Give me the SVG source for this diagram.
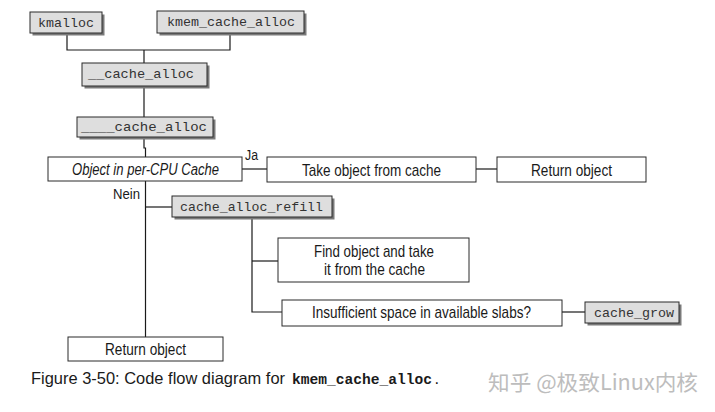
<svg xmlns="http://www.w3.org/2000/svg" width="715" height="412" viewBox="0 0 715 412">
<defs>
<style>
.bg{fill:#ffffff}
.gbox{fill:#dedede;stroke:#2a2a2a;stroke-width:1}
.shadow{fill:#7a7a7a}
.wbox{fill:#ffffff;stroke:#2a2a2a;stroke-width:1}
.conn{fill:none;stroke:#1a1a1a;stroke-width:1.2}
.mono{font-family:"Liberation Mono","DejaVu Sans Mono",monospace;font-size:13.5px;fill:#333333}
.sans{font-family:"Liberation Sans Narrow","Liberation Sans",Arial,sans-serif;font-size:17px;fill:#1a1a1a}
.it{font-style:italic}
.small{font-size:14px}
.cap{font-family:"Liberation Sans",Arial,sans-serif;font-size:16.5px;fill:#1a1a1a}
.capmono{font-family:"Liberation Mono","DejaVu Sans Mono",monospace;font-size:15px;font-weight:bold;fill:#1a1a1a}
.wm{font-family:"Noto Sans CJK SC","Noto Sans",sans-serif;font-size:21px;fill:#bdbdbd}
</style>
</defs>
<rect class="bg" x="0" y="0" width="715" height="412"/>

<g id="connectors">
<path class="conn" d="M67,33 V50 H230 V33"/>
<path class="conn" d="M144,50 V63"/>
<path class="conn" d="M144,86 V117"/>
<path class="conn" d="M144,137 V148 H145.5 V157"/>
<path class="conn" d="M242,169 H267"/>
<path class="conn" d="M476,169 H497"/>
<path class="conn" d="M145.5,181 V337"/>
<path class="conn" d="M145.5,207 H172"/>
<path class="conn" d="M252,217 V312 H282"/>
<path class="conn" d="M252,261 H278"/>
<path class="conn" d="M562,312 H585"/>
</g>

<g id="kmalloc">
<rect class="shadow" x="32.5" y="14.5" width="72" height="21"/>
<rect class="gbox" x="30" y="12" width="72" height="21"/>
<text class="mono" x="38" y="27" textLength="56" lengthAdjust="spacingAndGlyphs">kmalloc</text>
</g>

<g id="kmem_cache_alloc">
<rect class="shadow" x="159.5" y="13.5" width="147" height="22"/>
<rect class="gbox" x="157" y="11" width="147" height="22"/>
<text class="mono" x="167" y="26" textLength="128" lengthAdjust="spacingAndGlyphs">kmem_cache_alloc</text>
</g>

<g id="__cache_alloc">
<rect class="shadow" x="84.5" y="65.5" width="125" height="23"/>
<rect class="gbox" x="82" y="63" width="125" height="23"/>
<text class="mono" x="88" y="78" textLength="106" lengthAdjust="spacingAndGlyphs">__cache_alloc</text>
</g>

<g id="____cache_alloc">
<rect class="shadow" x="79.5" y="119.5" width="136" height="20"/>
<rect class="gbox" x="77" y="117" width="136" height="20"/>
<text class="mono" x="81" y="131" textLength="126" lengthAdjust="spacingAndGlyphs">____cache_alloc</text>
</g>

<g id="object_in_cache">
<rect class="wbox" x="48" y="157" width="194" height="24"/>
<text class="sans it" transform="translate(72,175) scale(0.8,1)" x="0" y="0" textLength="183.75" lengthAdjust="spacingAndGlyphs">Object in per-CPU Cache</text>
</g>

<g id="label_ja">
<text class="sans small" x="245" y="159.5" textLength="13" lengthAdjust="spacingAndGlyphs">Ja</text>
</g>

<g id="label_nein">
<text class="sans small" x="113" y="199" textLength="27" lengthAdjust="spacingAndGlyphs">Nein</text>
</g>

<g id="take_object">
<rect class="wbox" x="267" y="157" width="209" height="25"/>
<text class="sans" x="302" y="175.5" textLength="139" lengthAdjust="spacingAndGlyphs">Take object from cache</text>
</g>

<g id="return_object_top">
<rect class="wbox" x="497" y="157" width="149" height="25"/>
<text class="sans" x="531" y="175.5" textLength="81" lengthAdjust="spacingAndGlyphs">Return object</text>
</g>

<g id="cache_alloc_refill">
<rect class="shadow" x="174.5" y="198.5" width="160" height="21"/>
<rect class="gbox" x="172" y="196" width="160" height="21"/>
<text class="mono" x="180" y="211" textLength="143" lengthAdjust="spacingAndGlyphs">cache_alloc_refill</text>
</g>

<g id="find_object">
<rect class="wbox" x="278" y="238" width="191" height="44"/>
<text class="sans" x="314" y="257" textLength="120" lengthAdjust="spacingAndGlyphs">Find object and take</text>
<text class="sans" x="324" y="274.5" textLength="101" lengthAdjust="spacingAndGlyphs">it from the cache</text>
</g>

<g id="insufficient_space">
<rect class="wbox" x="282" y="300" width="280" height="26"/>
<text class="sans" x="312" y="318" textLength="219" lengthAdjust="spacingAndGlyphs">Insufficient space in available slabs?</text>
</g>

<g id="cache_grow">
<rect class="shadow" x="587.5" y="304.5" width="94" height="21"/>
<rect class="gbox" x="585" y="302" width="94" height="21"/>
<text class="mono" x="594" y="317" textLength="80" lengthAdjust="spacingAndGlyphs">cache_grow</text>
</g>

<g id="return_object_bottom">
<rect class="wbox" x="68" y="337" width="155" height="24"/>
<text class="sans" x="105" y="355" textLength="81" lengthAdjust="spacingAndGlyphs">Return object</text>
</g>

<g id="caption">
<text class="cap" x="31" y="383.5" textLength="254" lengthAdjust="spacingAndGlyphs">Figure 3-50: Code flow diagram for</text>
<text class="capmono" x="292" y="383.5" textLength="140" lengthAdjust="spacingAndGlyphs">kmem_cache_alloc</text>
<text class="cap" x="434.5" y="383.5">.</text>
</g>

<g id="watermark">
<text class="wm" x="488" y="390" textLength="210" lengthAdjust="spacingAndGlyphs">知乎 @极致Linux内核</text>
</g>
</svg>
